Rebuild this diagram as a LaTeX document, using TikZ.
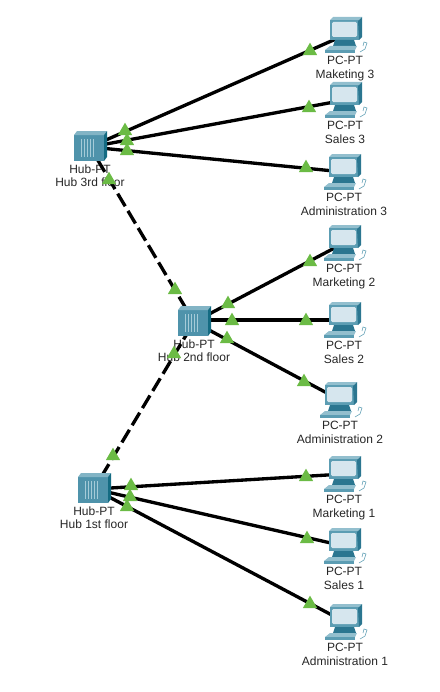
\documentclass[tikz,border=0pt]{standalone}
\usepackage{fontspec}
\setmainfont{Liberation Sans}
\usetikzlibrary{positioning,shapes.geometric}
\definecolor{hubfront}{HTML}{4F93AB}
\definecolor{hubtop}{HTML}{82B4C5}
\definecolor{hubside}{HTML}{146B82}
\definecolor{hubline}{HTML}{A5CBD8}
\definecolor{pcbody}{HTML}{5C9DB3}
\definecolor{pcdark}{HTML}{2B7690}
\definecolor{pclight}{HTML}{93BFCE}
\definecolor{pcscreen}{HTML}{D6E6EE}
\definecolor{linkgreen}{HTML}{6BBB45}
\tikzset{
  hubicon/.pic={
    \fill[hubfront] (-16,-12) rectangle (14,14);
    \fill[hubtop] (-16,-12) -- (-13,-16) -- (17,-16) -- (14,-12) -- cycle;
    \fill[hubside] (14,-12) -- (17,-16) -- (17,10) -- (14,14) -- cycle;
    \draw[hubline, line width=0.7pt] (-9,-8) -- (-9,10) (-6,-8) -- (-6,10) (-3,-8) -- (-3,10) (0,-8) -- (0,10) (3,-8) -- (3,10);
  },
  pcicon/.pic={
    \fill[pclight] (-15,-15) -- (-12,-18) -- (17,-18) -- (13,-14) -- cycle;
    \fill[pcbody] (-15,-15) rectangle (14,5);
    \fill[pcdark] (13,-14) -- (17,-18) -- (17,2) -- (14,5) -- cycle;
    \fill[pcscreen, rounded corners=1pt] (-13,-13) rectangle (12,2);
    \fill[pcdark] (-10,5) -- (9,5) -- (11,11) -- (-12,11) -- cycle;
    \fill[pclight] (-15,11) -- (12,11) -- (10,15) -- (-20,15) -- cycle;
    \fill[pcbody] (-20,15) -- (10,15) -- (10,18) -- (-20,18) -- cycle;
    \fill[white] (17,10) -- (19,7) -- (22,8) -- (20,14) -- (14,18) -- cycle;
    \draw[pcbody, line width=0.4pt] (18,11) -- (19,7) -- (22,8) -- (20,14) -- (15,17);
  }
}
\begin{document}
\begin{tikzpicture}[
  x=0.75pt, y=-0.75pt,
  hub/.style={rectangle, minimum size=18pt, inner sep=0pt},
  pc/.style={rectangle, minimum size=15pt, inner sep=0pt},
  lbl/.style={font=\fontsize{9}{10.2}\selectfont, align=center, inner sep=0pt, text=black!85},
  hublbl/.style={font=\fontsize{9}{9.6}\selectfont, align=center, inner sep=0pt, text=black!85},
  link/.style={line width=2.5pt, black},
  trunk/.style={line width=2.5pt, black, dash pattern=on 11pt off 4pt},
  tri/.style={regular polygon, regular polygon sides=3, fill=linkgreen, minimum size=12.5pt, inner sep=0pt}
]
\useasboundingbox (0,0) rectangle (439,692);
\node[hub] (h3) at (90,147) {};
\node[hub] (h2) at (194,322) {};
\node[hub] (h1) at (94,489) {};
\node[pc] (m3) at (345,35) {};
\node[pc] (s3) at (345,100) {};
\node[pc] (a3) at (344,172) {};
\node[pc] (m2) at (344,243) {};
\node[pc] (s2) at (344,320) {};
\node[pc] (a2) at (340,400) {};
\node[pc] (m1) at (344,474) {};
\node[pc] (s1) at (344,546) {};
\node[pc] (a1) at (345,622) {};
\node[hublbl, below=4.2pt of h3] (h3t) {Hub-PT\\Hub 3rd floor};
\node[hublbl, below=4.2pt of h2] (h2t) {Hub-PT\\Hub 2nd floor};
\node[hublbl, below=4.2pt of h1] (h1t) {Hub-PT\\Hub 1st floor};
\node[lbl, below=8.2pt of m3] (m3t) {PC-PT\\Maketing 3};
\node[lbl, below=8.2pt of s3] (s3t) {PC-PT\\Sales 3};
\node[lbl, below=8.2pt of a3] (a3t) {PC-PT\\Administration 3};
\node[lbl, below=8.2pt of m2] (m2t) {PC-PT\\Marketing 2};
\node[lbl, below=8.2pt of s2] (s2t) {PC-PT\\Sales 2};
\node[lbl, below=8.2pt of a2] (a2t) {PC-PT\\Administration 2};
\node[lbl, below=8.2pt of m1] (m1t) {PC-PT\\Marketing 1};
\node[lbl, below=8.2pt of s1] (s1t) {PC-PT\\Sales 1};
\node[lbl, below=8.2pt of a1] (a1t) {PC-PT\\Administration 1};
\draw[link] (h3)--(m3);
\draw[link] (h3)--(s3);
\draw[link] (h3)--(a3);
\draw[link] (h2)--(m2);
\draw[link] (h2.east|-s2)--(s2);
\draw[link] (h2)--(a2);
\draw[link] (h1)--(m1);
\draw[link] (h1)--(s1);
\draw[link] (h1)--(a1);
\draw[trunk] (h3)--(h2);
\draw[trunk] (h1)--(h2);
\pic at (h3) {hubicon};
\pic at (h2) {hubicon};
\pic at (h1) {hubicon};
\pic at (m3) {pcicon};
\pic at (s3) {pcicon};
\pic at (a3) {pcicon};
\pic at (m2) {pcicon};
\pic at (s2) {pcicon};
\pic at (a2) {pcicon};
\pic at (m1) {pcicon};
\pic at (s1) {pcicon};
\pic at (a1) {pcicon};
% link lights
\node[tri] (t1) at (125,131) {};
\node[tri] (t2) at (127,141) {};
\node[tri] (t3) at (127,151) {};
\node[tri] (t4) at (109,180) {};
\node[tri] (t5) at (310,51) {};
\node[tri] (t6) at (309,108) {};
\node[tri] (t7) at (306,168) {};
\node[tri] (t8) at (175,290) {};
\node[tri] (t9) at (174,354) {};
\node[tri] (t10) at (228,304) {};
\node[tri] (t11) at (232,321) {};
\node[tri] (t12) at (227,339) {};
\node[tri] (t13) at (310,262) {};
\node[tri] (t14) at (306,321) {};
\node[tri] (t15) at (304,382) {};
\node[tri] (t16) at (113,456) {};
\node[tri] (t17) at (131,486) {};
\node[tri] (t18) at (130,497) {};
\node[tri] (t19) at (127,507) {};
\node[tri] (t20) at (306,477) {};
\node[tri] (t21) at (307,539) {};
\node[tri] (t22) at (310,604) {};
\end{tikzpicture}
\end{document}
